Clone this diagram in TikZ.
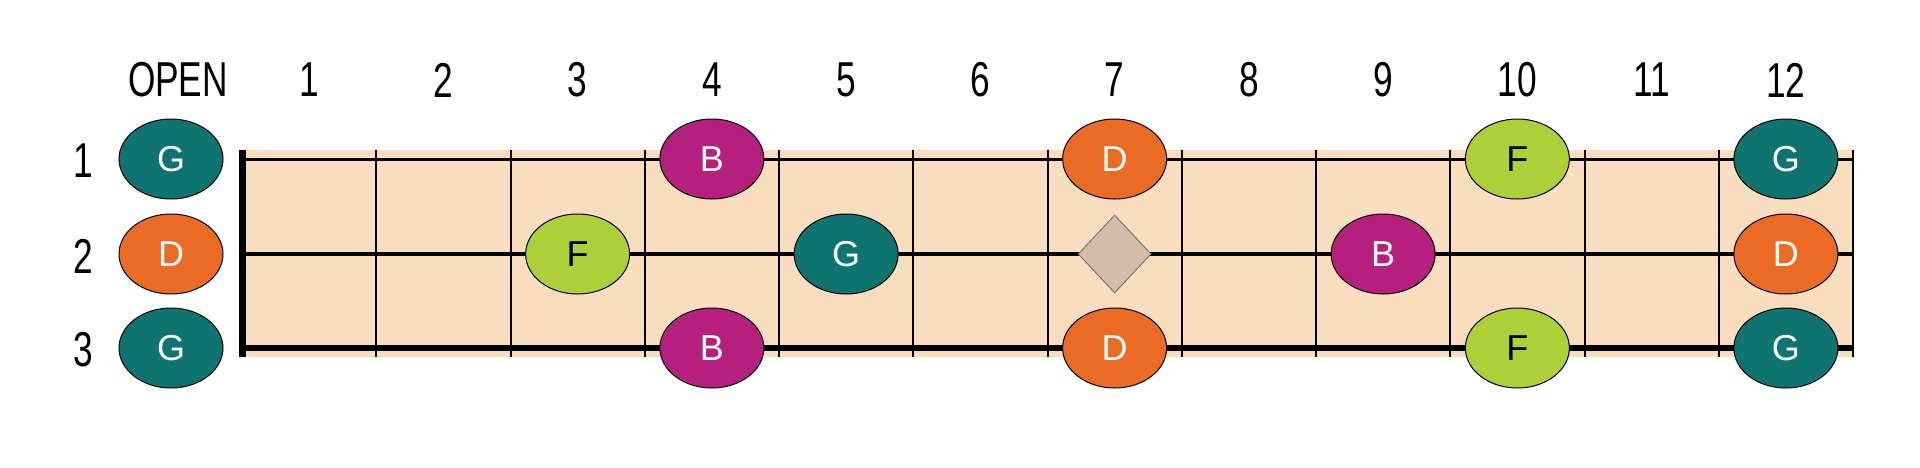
\documentclass[tikz,border=0pt]{standalone}
\usepackage{fontspec}
\setmainfont{Liberation Sans}
\usetikzlibrary{shapes.geometric}
\definecolor{board}{HTML}{F8DDBF}
\definecolor{cG}{HTML}{0E7470}
\definecolor{cD}{HTML}{EC6B24}
\definecolor{cB}{HTML}{B51F7E}
\definecolor{cF}{HTML}{ADCF37}
\definecolor{dia}{HTML}{D5BCA9}
\tikzset{
  lab/.style={font=\fontsize{49}{49}\selectfont, inner sep=0pt, xscale=0.72},
  note/.style={ellipse, draw=black, line width=1pt, minimum width=104pt, minimum height=80pt, inner sep=0pt, font=\fontsize{36}{36}\selectfont},
  nG/.style={note, fill=cG, text=white},
  nD/.style={note, fill=cD, text=white},
  nB/.style={note, fill=cB, text=white},
  nF/.style={note, fill=cF, text=black},
}
\begin{document}
\begin{tikzpicture}[x=1pt,y=-1pt]
\useasboundingbox (0,0) rectangle (1920,467);
\fill[board] (242,150) rectangle (1853,357);
\foreach \i in {1,...,12} {
  \draw[line width=2pt] ({242+134.25*\i},150) -- ({242+134.25*\i},357);
}
\coordinate (s1a) at (242,159); \coordinate (s1b) at (1853,159);
\coordinate (s2a) at (242,254); \coordinate (s2b) at (1853,254);
\coordinate (s3a) at (242,348); \coordinate (s3b) at (1853,348);
\draw[line width=3pt] (s1a) -- (s1b);
\draw[line width=4.5pt] (s2a) -- (s2b);
\draw[line width=6.5pt] (s3a) -- (s3b);
\draw[line width=7pt] (242,150) -- (242,357);
\node[diamond, draw=black!60, line width=0.8pt, fill=dia, minimum width=73pt, minimum height=78pt, inner sep=0pt, aspect=0.93] (inlay) at ({242+134.25*6.5},254) {};
\node[lab] (lopen) at (178,80) {OPEN};
\foreach \i in {1,...,12} {
  \node[lab] (l\i) at ({242+134.25*(\i-0.5)},80) {\i};
}
\node[lab] (r1) at (83,161) {1};
\node[lab] (r2) at (83,256) {2};
\node[lab] (r3) at (83,350) {3};
\node[nG] (o1) at (171,159) {G};
\node[nD] (o2) at (171,254) {D};
\node[nG] (o3) at (171,348) {G};
\node[nB] (a4) at ({242+134.25*3.5},159) {B};
\node[nD] (a7) at ({242+134.25*6.5},159) {D};
\node[nF] (a10) at ({242+134.25*9.5},159) {F};
\node[nG] (a12) at ({242+134.25*11.5},159) {G};
\node[nF] (b3) at ({242+134.25*2.5},254) {F};
\node[nG] (b5) at ({242+134.25*4.5},254) {G};
\node[nB] (b9) at ({242+134.25*8.5},254) {B};
\node[nD] (b12) at ({242+134.25*11.5},254) {D};
\node[nB] (c4) at ({242+134.25*3.5},348) {B};
\node[nD] (c7) at ({242+134.25*6.5},348) {D};
\node[nF] (c10) at ({242+134.25*9.5},348) {F};
\node[nG] (c12) at ({242+134.25*11.5},348) {G};
\end{tikzpicture}
\end{document}
